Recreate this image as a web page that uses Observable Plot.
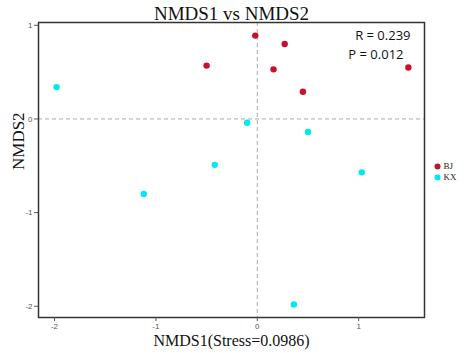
<!DOCTYPE html>
<html><head><meta charset="utf-8">
<script src="https://cdn.jsdelivr.net/npm/d3@7"></script>
<script src="https://cdn.jsdelivr.net/npm/@observablehq/plot@0.6"></script>
<style>body{margin:0;background:#fff}</style>
</head><body><div id="chart"></div>
<script>
const groups = ["BJ", "KX"];
const colors = ["#c8102e", "#00e8f0"];
const bjNMDS1 = [-0.02, 0.27, -0.50, 0.16, 0.45, 1.49];
const bjNMDS2 = [0.89, 0.80, 0.57, 0.53, 0.29, 0.55];
const kxNMDS1 = [-1.98, -0.10, 0.50, -0.42, -1.12, 1.03, 0.36];
const kxNMDS2 = [0.34, -0.04, -0.14, -0.49, -0.80, -0.57, -1.98];
const xTicks = [-2, -1, 0, 1];
const yTicks = [-2, -1, 0, 1];
const title = "NMDS1 vs NMDS2";
const xLabel = "NMDS1(Stress=0.0986)";
const yLabel = "NMDS2";
const stats = ["R = 0.239", "P = 0.012"];

const pts = [
  ...bjNMDS1.map((v, i) => ({x: v, y: bjNMDS2[i], g: "BJ"})),
  ...kxNMDS1.map((v, i) => ({x: v, y: kxNMDS2[i], g: "KX"}))
];

const serif = "'Liberation Serif', 'DejaVu Serif', serif";
const plot = Plot.plot({
  width: 474, height: 353,
  marginLeft: 38, marginRight: 50, marginTop: 22, marginBottom: 36,
  style: {background: "#fff", fontFamily: "'Liberation Sans', sans-serif"},
  x: {domain: [-2.158, 1.649], ticks: xTicks, label: null},
  y: {domain: [-2.12, 1.03], ticks: yTicks, label: null},
  color: {domain: groups, range: colors},
  marks: [
    Plot.ruleX([0], {stroke: "#aaa", strokeDasharray: "4,3", strokeWidth: 1}),
    Plot.ruleY([0], {stroke: "#aaa", strokeDasharray: "4,3", strokeWidth: 1}),
    Plot.frame({stroke: "#333", strokeWidth: 1.5}),
    Plot.axisX({ticks: xTicks, tickSize: 4, tickPadding: 2, fontSize: 8, color: "#555", label: null, tickFormat: d => String(d)}),
    Plot.axisY({ticks: yTicks, tickSize: 4, tickPadding: 2, fontSize: 8, color: "#555", label: null, tickFormat: d => String(d)}),
    Plot.dot(pts, {x: "x", y: "y", fill: "g", r: 3.2}),
    Plot.text([title], {frameAnchor: "top", dy: -3, lineAnchor: "bottom", fontSize: 19, fontFamily: serif, fill: "#111"}),
    Plot.text([xLabel], {frameAnchor: "bottom", dy: 23, lineAnchor: "middle", fontSize: 16, fontFamily: serif, fill: "#111"}),
    Plot.text([yLabel], {frameAnchor: "left", dx: -20, rotate: -90, fontSize: 17, fontFamily: serif, fill: "#111"}),
    Plot.text([stats[0]], {frameAnchor: "top-right", dx: -14, dy: 13, textAnchor: "end", lineAnchor: "middle", fontSize: 13, fontFamily: "'Open Sans', sans-serif", fill: "#111"}),
    Plot.text([stats[1]], {frameAnchor: "top-right", dx: -21, dy: 32, textAnchor: "end", lineAnchor: "middle", fontSize: 13, fontFamily: "'Open Sans', sans-serif", fill: "#111"}),
    Plot.dot(groups.slice(0, 1), {frameAnchor: "right", dx: 13, dy: -3.5, fill: d => d, r: 3}),
    Plot.dot(groups.slice(1, 2), {frameAnchor: "right", dx: 13, dy: 7.5, fill: d => d, r: 3}),
    Plot.text(groups.slice(0, 1), {frameAnchor: "right", dx: 19, dy: -3.5, textAnchor: "start", fontSize: 9, fontFamily: serif, fill: "#222"}),
    Plot.text(groups.slice(1, 2), {frameAnchor: "right", dx: 19, dy: 7.5, textAnchor: "start", fontSize: 9, fontFamily: serif, fill: "#222"})
  ]
});
document.getElementById("chart").appendChild(plot);
</script></body></html>
